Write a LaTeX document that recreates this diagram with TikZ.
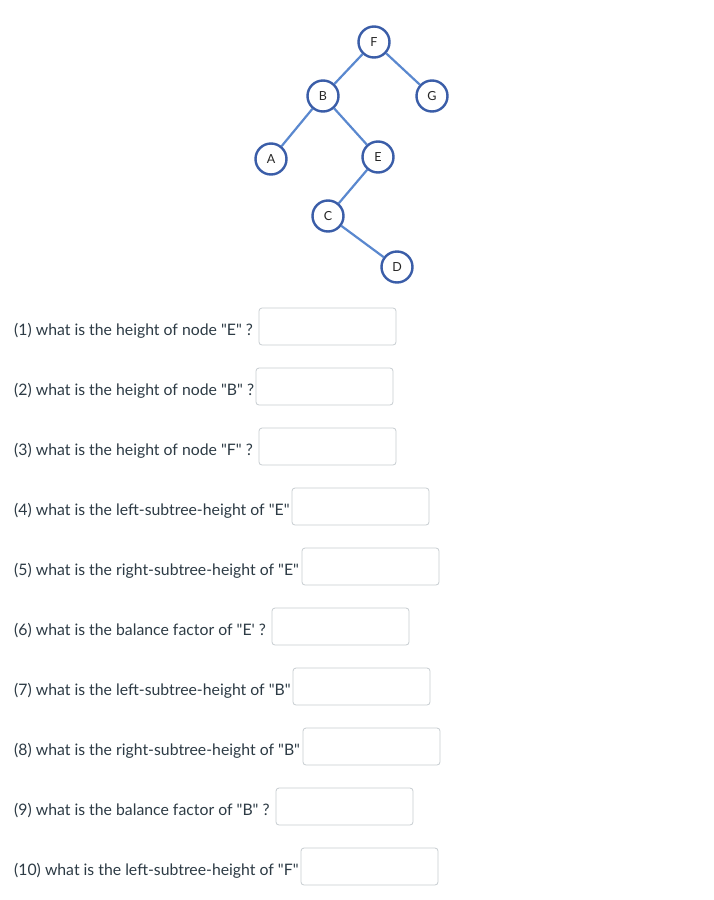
\documentclass[tikz,border=0pt]{standalone}
\usepackage{fontspec}
\setmainfont{Lato}[Ligatures=TeXOff]
\definecolor{txt}{HTML}{2D3B45}
\definecolor{ring}{HTML}{3A5DA8}
\definecolor{edge}{HTML}{5A88CF}
\definecolor{boxline}{HTML}{C7CDD1}
\begin{document}
\begin{tikzpicture}[x=1pt,y=-1pt,
  tnode/.style={circle,draw=ring,line width=2.4pt,minimum size=31pt,inner sep=0pt,fill=white,text=black!85,font=\fontsize{12.5}{13}\selectfont},
  tedge/.style={draw=edge,line width=2.2pt},
  qtext/.style={anchor=base west,text=txt,font=\fontsize{15.8}{17}\selectfont,inner sep=0pt},
  ansbox/.style={draw=boxline,line width=0.8pt,rounded corners=3pt,fill=white}]
\useasboundingbox (0,0) rectangle (713,900);
\fill[white] (0,0) rectangle (713,900);
% tree
\node[tnode] (F) at (374,42) {F};
\node[tnode] (B) at (323,96) {B};
\node[tnode] (G) at (432,96) {G};
\node[tnode] (A) at (271,159) {A};
\node[tnode] (E) at (378,157) {E};
\node[tnode] (C) at (328,216) {C};
\node[tnode] (D) at (397,267) {D};
\draw[tedge] (F) -- (B);
\draw[tedge] (F) -- (G);
\draw[tedge] (B) -- (A);
\draw[tedge] (B) -- (E);
\draw[tedge] (E) -- (C);
\draw[tedge] (C) -- (D);
% questions
\node[qtext] (q1) at (14,335) {(1) what is the height of node "E" ?};
\node[qtext] (q2) at (14,395) {(2) what is the height of node "B" ?};
\node[qtext] (q3) at (14,455) {(3) what is the height of node "F" ?};
\node[qtext] (q4) at (14,515) {(4) what is the left-subtree-height of "E"};
\node[qtext] (q5) at (14,575) {(5) what is the right-subtree-height of "E"};
\node[qtext] (q6) at (14,635) {(6) what is the balance factor of "E' ?};
\node[qtext] (q7) at (14,695) {(7) what is the left-subtree-height of "B"};
\node[qtext] (q8) at (14,755) {(8) what is the right-subtree-height of "B"};
\node[qtext] (q9) at (14,815) {(9) what is the balance factor of "B" ?};
\node[qtext] (q10) at (14,875) {(10) what is the left-subtree-height of "F"};
% answer boxes
\draw[ansbox] (259,308) rectangle (396,345);
\draw[ansbox] (256,368) rectangle (393,405);
\draw[ansbox] (259,428) rectangle (396,465);
\draw[ansbox] (292,488) rectangle (429,525);
\draw[ansbox] (302,548) rectangle (439,585);
\draw[ansbox] (272,608) rectangle (409,645);
\draw[ansbox] (293,668) rectangle (430,705);
\draw[ansbox] (303,728) rectangle (440,765);
\draw[ansbox] (276,788) rectangle (413,825);
\draw[ansbox] (301,848) rectangle (438,885);
\end{tikzpicture}
\end{document}
